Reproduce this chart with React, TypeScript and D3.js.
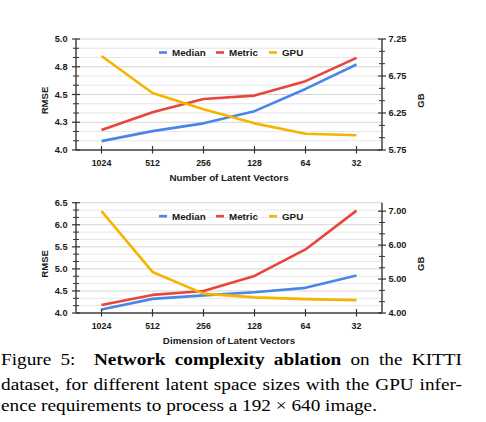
import * as d3 from 'd3'

const categories = ['1024', '512', '256', '128', '64', '32']

// top panel: number of latent vectors
const medianTop = [4.08, 4.17, 4.24, 4.35, 4.55, 4.77]
const metricTop = [4.18, 4.34, 4.46, 4.49, 4.62, 4.83]
const gpuTop = [7.02, 6.52, 6.3, 6.11, 5.97, 5.95]
const leftTicksTop = ['4.0', '4.3', '4.5', '4.8', '5.0']
const leftValuesTop = [4.0, 4.25, 4.5, 4.75, 5.0]
const rightTicksTop = ['5.75', '6.25', '6.75', '7.25']

// bottom panel: dimension of latent vectors
const medianBottom = [4.08, 4.32, 4.4, 4.47, 4.57, 4.85]
const metricBottom = [4.18, 4.41, 4.5, 4.84, 5.44, 6.32]
const gpuBottom = [7.0, 5.21, 4.57, 4.46, 4.41, 4.38]
const leftTicksBottom = ['4.0', '4.5', '5.0', '5.5', '6.0', '6.5']
const rightTicksBottom = ['4.00', '5.00', '6.00', '7.00']

const seriesNames = ['Median', 'Metric', 'GPU']
const COLORS = ['#4a86e8', '#e8453c', '#f5b400']
const FONT = '"Liberation Sans", Arial, sans-serif'
const TXT = '#1a1a1a'

type PanelProps = {
  top: number
  bottom: number
  leftValues: number[]
  leftLabels: string[]
  rightDomain: [number, number]
  rightLabels: string[]
  median: number[]
  metric: number[]
  gpu: number[]
  xTitle: string
  titleDy: number
}

const Panel = ({
  top,
  bottom,
  leftValues,
  leftLabels,
  rightDomain,
  rightLabels,
  median,
  metric,
  gpu,
  xTitle,
  titleDy,
}: PanelProps) => {
  const left = 76
  const right = 382
  const x = d3.scaleBand<string>().domain(categories).range([left, right]).padding(0)
  const cx = (c: string) => (x(c) ?? 0) + x.bandwidth() / 2
  const yL = d3
    .scaleLinear()
    .domain([leftValues[0], leftValues[leftValues.length - 1]])
    .range([bottom, top])
  const yR = d3.scaleLinear().domain(rightDomain).range([bottom, top])

  // minor steps: 3 per major interval
  const leftMinor: number[] = []
  for (let i = 0; i < leftValues.length - 1; i++) {
    const a = leftValues[i]
    const b = leftValues[i + 1]
    leftMinor.push(a + (b - a) / 3, a + (2 * (b - a)) / 3)
  }
  const rightValues = rightLabels.map(Number)
  const rightMinor: number[] = []
  for (let i = 0; i < rightValues.length - 1; i++) {
    const a = rightValues[i]
    const b = rightValues[i + 1]
    rightMinor.push(a + (b - a) / 3, a + (2 * (b - a)) / 3)
  }

  const lineL = d3
    .line<number>()
    .x((_, i) => cx(categories[i]))
    .y((d) => yL(d))
  const lineR = d3
    .line<number>()
    .x((_, i) => cx(categories[i]))
    .y((d) => yR(d))

  const legendX = [159, 216, 269]
  const legendY = top + 13.5

  return (
    <g>
      {/* grid */}
      {leftMinor.map((v, i) => (
        <line key={'gm' + i} x1={left} x2={right} y1={yL(v)} y2={yL(v)} stroke="#e6e6e6" strokeWidth={1} />
      ))}
      {leftValues.map((v, i) => (
        <line key={'gM' + i} x1={left} x2={right} y1={yL(v)} y2={yL(v)} stroke="#d4d4d4" strokeWidth={1} />
      ))}

      {/* lines */}
      <path d={lineL(median) ?? ''} fill="none" stroke={COLORS[0]} strokeWidth={2.6} strokeLinejoin="round" />
      <path d={lineL(metric) ?? ''} fill="none" stroke={COLORS[1]} strokeWidth={2.6} strokeLinejoin="round" />
      <path d={lineR(gpu) ?? ''} fill="none" stroke={COLORS[2]} strokeWidth={2.6} strokeLinejoin="round" />

      {/* axes */}
      <line x1={left} x2={left} y1={top} y2={bottom} stroke="#444" strokeWidth={1.5} />
      <line x1={right} x2={right} y1={top} y2={bottom} stroke="#444" strokeWidth={1.5} />
      <line x1={left} x2={right} y1={bottom} y2={bottom} stroke="#444" strokeWidth={1.5} />
      {leftValues.map((v, i) => (
        <g key={'lt' + i}>
          <line x1={left - 4} x2={left + 4} y1={yL(v)} y2={yL(v)} stroke="#333" strokeWidth={1.2} />
          <text
            x={67.5}
            y={yL(v)}
            dy="0.35em"
            textAnchor="end"
            fontFamily={FONT}
            fontWeight="bold"
            fontSize={9.2}
            fill={TXT}
          >
            {leftLabels[i]}
          </text>
        </g>
      ))}
      {leftMinor.map((v, i) => (
        <line key={'lm' + i} x1={left - 3} x2={left + 3} y1={yL(v)} y2={yL(v)} stroke="#333" strokeWidth={1} />
      ))}
      {rightValues.map((v, i) => (
        <g key={'rt' + i}>
          <line x1={right - 4} x2={right + 4} y1={yR(v)} y2={yR(v)} stroke="#333" strokeWidth={1.2} />
          <text
            x={388.5}
            y={yR(v)}
            dy="0.35em"
            fontFamily={FONT}
            fontWeight="bold"
            fontSize={9.2}
            fill={TXT}
          >
            {rightLabels[i]}
          </text>
        </g>
      ))}
      {rightMinor.map((v, i) => (
        <line key={'rm' + i} x1={right - 3} x2={right + 3} y1={yR(v)} y2={yR(v)} stroke="#333" strokeWidth={1} />
      ))}
      {categories.map((c) => (
        <g key={'xt' + c}>
          <line x1={cx(c)} x2={cx(c)} y1={bottom - 4} y2={bottom + 3.5} stroke="#333" strokeWidth={1.2} />
          <text
            x={cx(c)}
            y={bottom + 16}
            textAnchor="middle"
            fontFamily={FONT}
            fontWeight="bold"
            fontSize={8.8}
            fill={TXT}
          >
            {c}
          </text>
        </g>
      ))}

      {/* titles */}
      <text
        x={229}
        y={bottom + 31}
        textAnchor="middle"
        fontFamily={FONT}
        fontWeight="bold"
        fontSize={9.8}
        fill={TXT}
      >
        {xTitle}
      </text>
      <text
        transform={`translate(47.5, ${(top + bottom) / 2 + titleDy}) rotate(-90)`}
        textAnchor="middle"
        fontFamily={FONT}
        fontWeight="bold"
        fontSize={9.6}
        fill={TXT}
      >
        RMSE
      </text>
      <text
        transform={`translate(424, ${(top + bottom) / 2 + titleDy}) rotate(-90)`}
        textAnchor="middle"
        fontFamily={FONT}
        fontWeight="bold"
        fontSize={9.6}
        fill={TXT}
      >
        GB
      </text>

      {/* legend */}
      {seriesNames.map((s, i) => (
        <g key={'lg' + s}>
          <line
            x1={legendX[i]}
            x2={legendX[i] + 8}
            y1={legendY}
            y2={legendY}
            stroke={COLORS[i]}
            strokeWidth={2.6}
          />
          <text
            x={legendX[i] + 13}
            y={legendY}
            dy="0.35em"
            fontFamily={FONT}
            fontWeight="bold"
            fontSize={9.8}
            fill={TXT}
          >
            {s}
          </text>
        </g>
      ))}
    </g>
  )
}

const SX = 1.12
const captionStyle = {
  position: 'absolute' as const,
  left: 1,
  width: 461 / SX,
  transform: `scaleX(${SX})`,
  transformOrigin: '0 0',
  fontFamily: '"Liberation Serif", "Times New Roman", serif',
  fontSize: 17.2,
  lineHeight: '23px',
  color: '#000',
  whiteSpace: 'nowrap' as const,
}

export default function App() {
  return (
    <div style={{ position: 'absolute', left: 0, top: 0, width: 486, height: 422, background: '#fff' }}>
      <svg width={486} height={422} style={{ position: 'absolute', left: 0, top: 0 }}>
        <Panel
          top={39}
          bottom={150}
          leftValues={leftValuesTop}
          leftLabels={leftTicksTop}
          rightDomain={[5.75, 7.25]}
          rightLabels={rightTicksTop}
          median={medianTop}
          metric={metricTop}
          gpu={gpuTop}
          xTitle="Number of Latent Vectors"
          titleDy={6}
        />
        <Panel
          top={202.7}
          bottom={313}
          leftValues={leftTicksBottom.map(Number)}
          leftLabels={leftTicksBottom}
          rightDomain={[4, 7.25]}
          rightLabels={rightTicksBottom}
          median={medianBottom}
          metric={metricBottom}
          gpu={gpuBottom}
          xTitle="Dimension of Latent Vectors"
          titleDy={6}
        />
      </svg>
      <div style={{ ...captionStyle, top: 348.4, textAlign: 'justify', textAlignLast: 'justify' }}>
        Figure 5:&nbsp; <b>Network complexity ablation</b> on the KITTI
      </div>
      <div style={{ ...captionStyle, top: 372.7, textAlign: 'justify', textAlignLast: 'justify' }}>
        dataset, for different latent space sizes with the GPU infer-
      </div>
      <div style={{ ...captionStyle, top: 394.4 }}>
        ence requirements to process a 192 × 640 image.
      </div>
    </div>
  )
}
